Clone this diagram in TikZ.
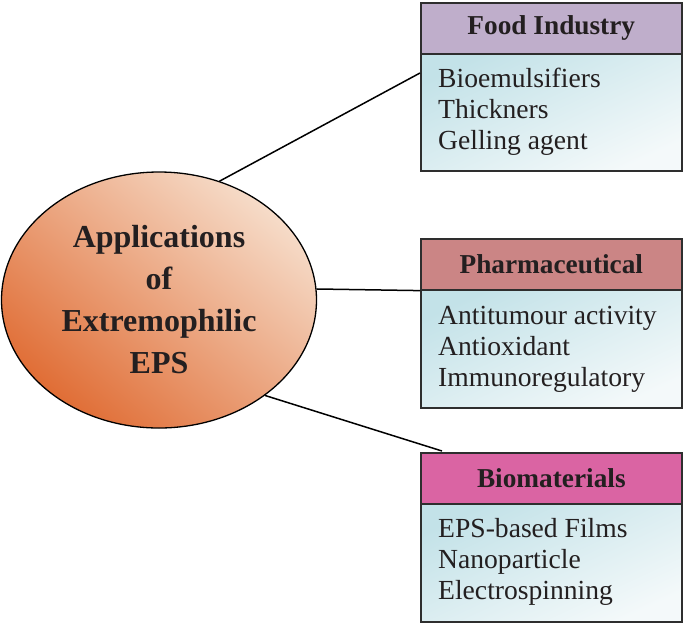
\documentclass[tikz,border=0pt]{standalone}
\usepackage{fontspec}
\setmainfont{Liberation Serif}
\usetikzlibrary{shapes.geometric}
\definecolor{txt}{HTML}{231F20}
\definecolor{edge}{HTML}{2E2E2E}
\definecolor{foodc}{HTML}{BFAECB}
\definecolor{pharmc}{HTML}{CB8585}
\definecolor{bioc}{HTML}{DA64A3}
\definecolor{bodytop}{HTML}{C3E2E8}
\definecolor{bodybot}{HTML}{F4F9FA}
\definecolor{ellorange}{HTML}{E06D35}
\definecolor{ellpeach}{HTML}{F6DCC9}
\tikzset{
  headbox/.style={draw=edge, line width=1.6pt, minimum width=261pt, minimum height=51pt,
    inner sep=0pt, anchor=north west, text=txt,
    font=\fontsize{27.3}{32}\selectfont\bfseries},
  bodybox/.style={draw=edge, line width=1.6pt, minimum width=261pt, minimum height=118pt,
    inner sep=0pt, anchor=north west, top color=bodytop, bottom color=bodybot, shading angle=25},
  itemtext/.style={anchor=west, align=left, text=txt, inner sep=0pt,
    font=\fontsize{27.6}{31}\selectfont},
  link/.style={draw=black, line width=1.5pt},
}
\begin{document}
\begin{tikzpicture}[x=1pt,y=-1pt]
\useasboundingbox (0,0) rectangle (685,622);
% central ellipse
\node[ellipse, draw=black, line width=1.3pt, minimum width=315pt, minimum height=256pt,
  inner sep=0pt, top color=ellpeach, bottom color=ellorange, shading angle=-40,
  text=txt, align=center, font=\fontsize{32}{42}\selectfont\bfseries]
  (ell) at (159,300) {Applications\\of\\Extremophilic\\EPS};
% Food industry
\node[bodybox] (foodbody) at (420,52) {};
\node[headbox, fill=foodc] (foodhead) at (420,2) {Food Industry};
\node[itemtext] (foodtext) at (438,112) {Bioemulsifiers\\Thickners\\Gelling agent};
% Pharmaceutical
\node[bodybox] (pharmbody) at (420,289) {};
\node[headbox, fill=pharmc] (pharmhead) at (420,238) {Pharmaceutical};
\node[itemtext] (pharmtext) at (438,349) {Antitumour activity\\Antioxidant\\Immunoregulatory};
% Biomaterials
\node[bodybox] (biobody) at (420,503) {};
\node[headbox, fill=bioc] (biohead) at (420,452) {Biomaterials};
\node[itemtext] (biotext) at (438,562) {EPS-based Films\\Nanoparticle\\Electrospinning};
% connector ends
\coordinate (foodend) at (420,73);
\coordinate (bioend) at (442,451);
\draw[link] (ell.63) -- (foodend);
\draw[link] (ell.4) -- (pharmhead.south west);
\draw[link] (ell.-42) -- (bioend);
\end{tikzpicture}
\end{document}
